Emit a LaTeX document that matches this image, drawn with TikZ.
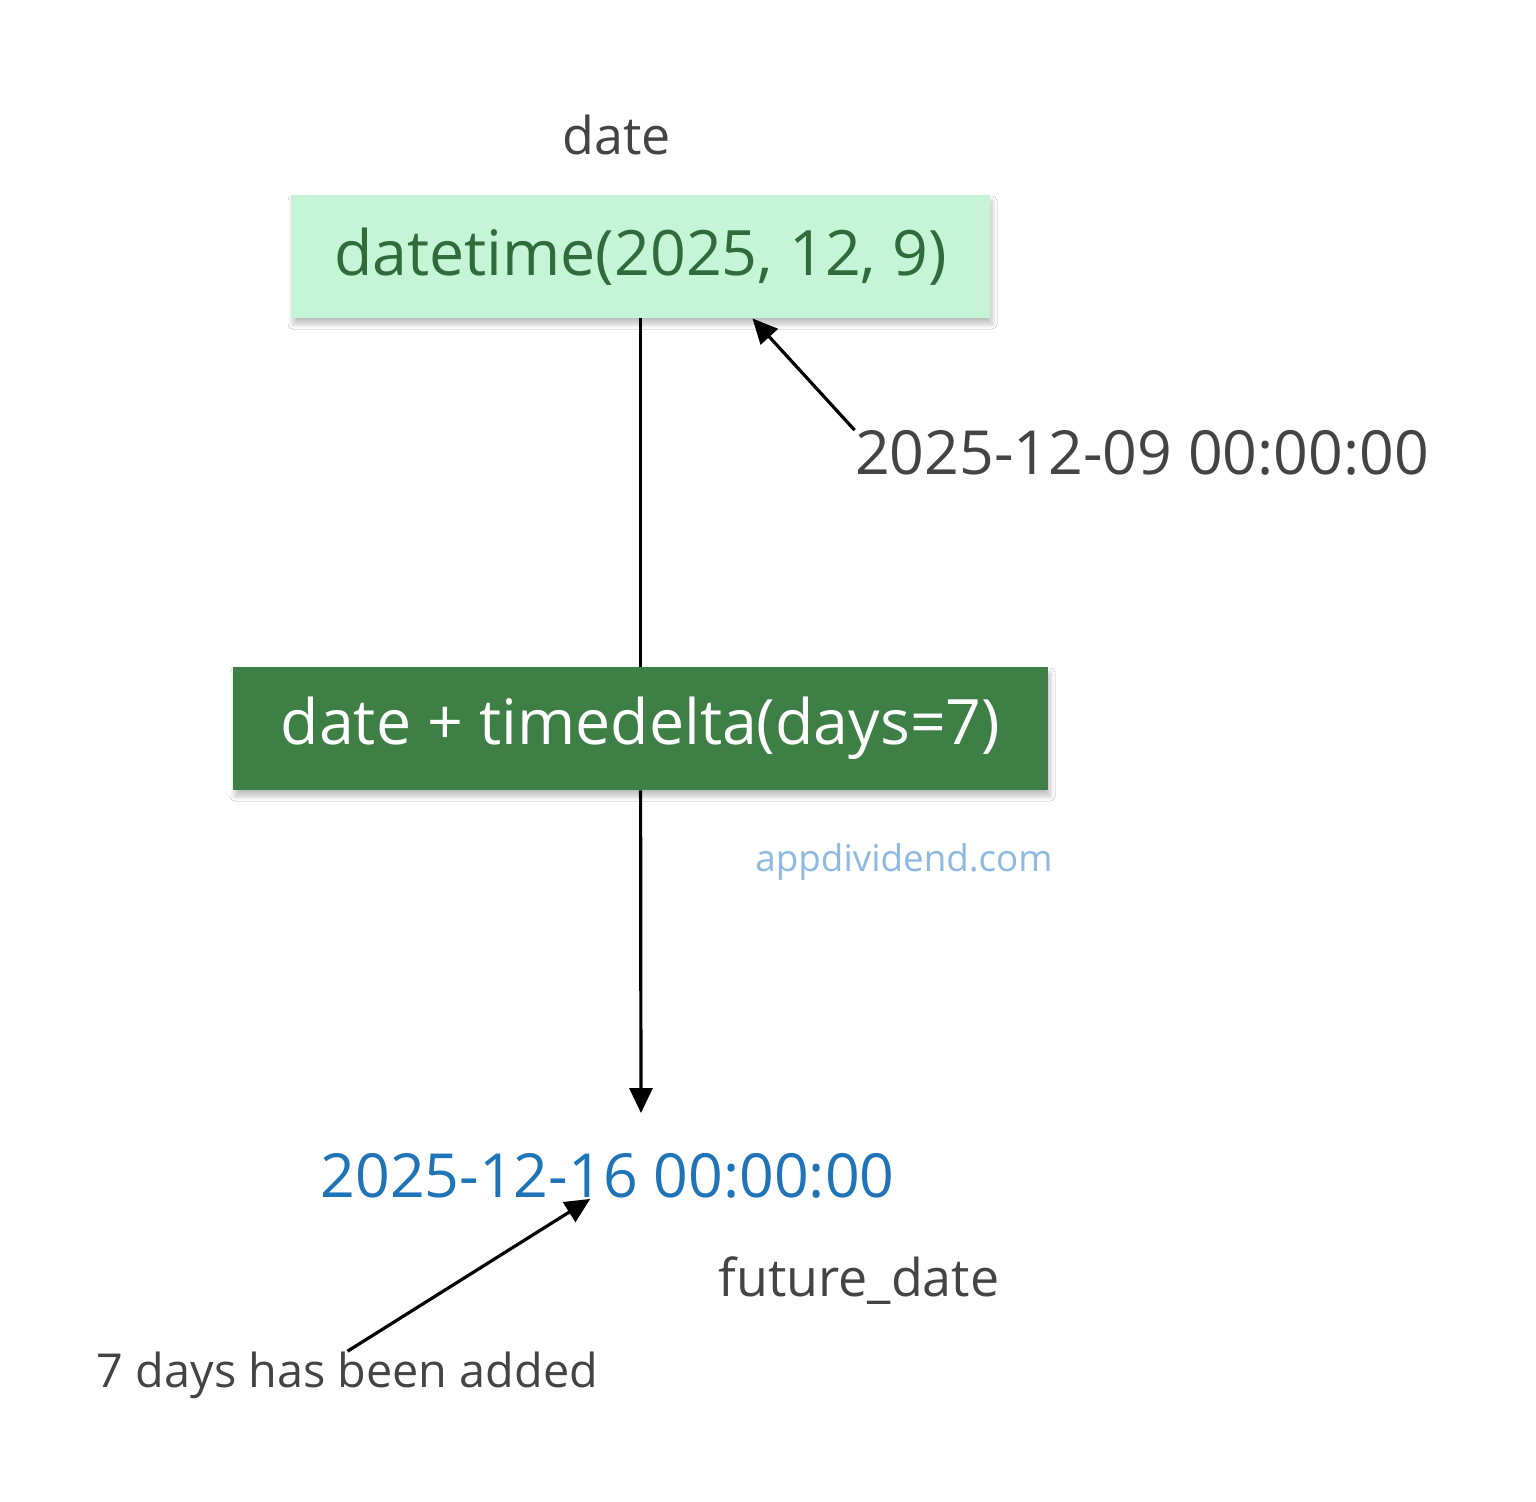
\documentclass[tikz,border=0pt]{standalone}
\usepackage{fontspec}
\setmainfont{Open Sans}
\usepackage{xcolor}
\usetikzlibrary{arrows.meta,shadows.blur,calc}

\definecolor{boxlight}{HTML}{C6F4D6}
\definecolor{boxdark}{HTML}{3D7F45}
\definecolor{codegreen}{HTML}{2F6B3B}
\definecolor{labelgrey}{HTML}{444444}
\definecolor{resultblue}{HTML}{1F73B7}
\definecolor{siteblue}{HTML}{8DB9E2}

\tikzset{
  codebox/.style={minimum width=349.5pt, minimum height=61.5pt, inner sep=0pt,
    font=\fontsize{31.3}{36}\selectfont,
    blur shadow={shadow xshift=1pt, shadow yshift=-3pt, shadow blur radius=2.5pt,
      shadow blur steps=8, shadow opacity=25}},
  tag/.style={inner sep=0pt, text=labelgrey},
  link/.style={line width=1.6pt, -{Triangle[length=12.5pt, width=11.5pt]}}
}

\begin{document}
\begin{tikzpicture}[x=0.5pt, y=-0.5pt]
\useasboundingbox[fill=white] (0,0) rectangle (1536,1501);

% Cajas
\node[codebox, fill=boxlight, text=codegreen] (start) at (640.5,256.5) {\raisebox{-1.5pt}{datetime(2025, 12, 9)}};
\node[codebox, fill=boxdark, text=white, minimum width=407.5pt] (step) at (640.5,728.5) {\raisebox{-1.5pt}{date + timedelta(days=7)}};

% Etiquetas
\node[tag, font=\fontsize{26}{30}\selectfont] (name) at (617,135) {date};
\node[tag, font=\fontsize{30.4}{35}\selectfont] (stamp) at (1142,453) {2025-12-09 00:00:00};
\node[inner sep=0pt, text=siteblue, font=\fontsize{18.4}{22}\selectfont] (site) at (904,862) {appdividend.com};
\node[inner sep=0pt, text=resultblue, font=\fontsize{30.4}{35}\selectfont] (result) at (607.5,1176) {2025-12-16 00:00:00};
\node[tag, font=\fontsize{26}{30}\selectfont] (future) at (859,1281) {future\_date};
\node[tag, font=\fontsize{23.4}{28}\selectfont] (note) at (347.5,1375) {7 days has been added};
\coordinate (tip) at (641,1113);

% Flechas
\draw[line width=1.6pt] (start) -- (step);
\draw[link] (step) -- (tip);
\draw[link] (stamp.north west) -- ($(start.south west)!0.66!(start.south east)$);
\draw[link] (note.north) -- ($(result.south west)!0.47!(result.south east)$);
\end{tikzpicture}
\end{document}
